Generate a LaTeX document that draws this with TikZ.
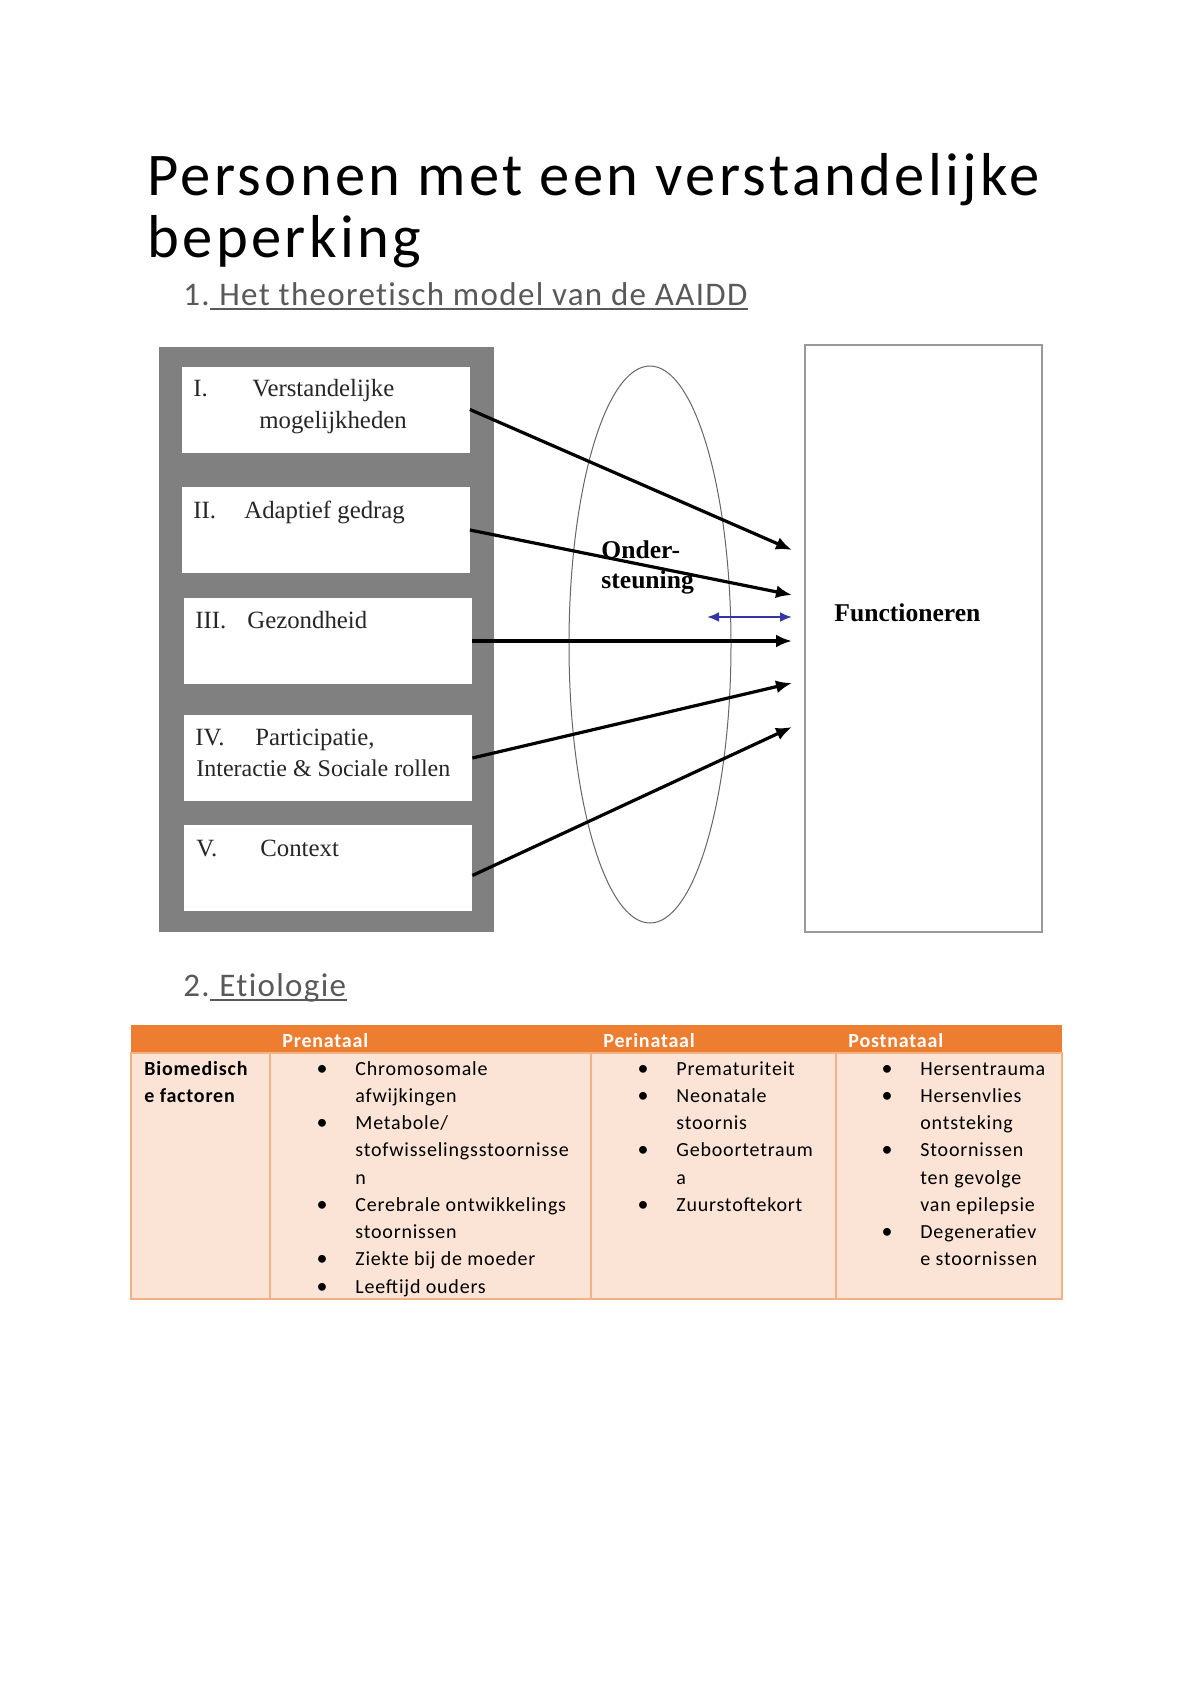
\documentclass[tikz,border=0pt]{standalone}
\usepackage{fontspec}
\setmainfont{Carlito}
\newfontfamily\titlefont[LetterSpace=5.5, Ligatures=NoCommon]{Carlito}
\newfontfamily\headfont[LetterSpace=4, Ligatures=NoCommon]{Carlito}
\newfontfamily\wordfont[LetterSpace=4]{Carlito}
\newfontfamily\timesfont{Liberation Serif}
\usetikzlibrary{arrows.meta, positioning, shapes.geometric}
\definecolor{hdorange}{HTML}{ED7D31}
\definecolor{cellpeach}{HTML}{FBE4D5}
\definecolor{lineorange}{HTML}{F4B183}
\definecolor{boxgray}{HTML}{808080}
\definecolor{arrowblue}{HTML}{3535A5}
\definecolor{headgray}{HTML}{595959}

\tikzset{
  boxtxt/.style={anchor=base west, inner sep=0pt, text=black!85,
                 font=\timesfont\fontsize{12.4}{14}\selectfont},
  boldtxt/.style={anchor=base west, inner sep=0pt, text=black,
                  font=\timesfont\bfseries\fontsize{12.8}{14}\selectfont},
  itembox/.style={fill=white, minimum width=144pt, minimum height=43pt, inner sep=0pt},
  flow/.style={-{Latex[length=8pt,width=6.5pt]}, line width=1.6pt},
  headtxt/.style={anchor=base west, inner sep=0pt, text=headgray,
                  font=\headfont\fontsize{16.5}{20}\selectfont},
  celltxt/.style={anchor=base west, inner sep=0pt,
                  font=\wordfont\fontsize{10}{12}\selectfont},
  bul/.style={anchor=base, inner sep=0pt, font=\fontsize{11}{12}\selectfont},
  colhead/.style={anchor=base west, inner sep=0pt, text=white,
                  font=\wordfont\bfseries\fontsize{10}{12}\selectfont},
}

\begin{document}
\begin{tikzpicture}[x=0.5pt, y=-0.5pt]
  \path[fill=white, use as bounding box] (0,0) rectangle (1200,1698);

  % title and heading
  \node[anchor=base west, inner sep=0pt, font=\titlefont\fontsize{30.3}{35}\selectfont]
    (title1) at (147,195) {Personen met een verstandelijke};
  \node[anchor=base west, inner sep=0pt, font=\titlefont\fontsize{30.3}{35}\selectfont]
    (title2) at (147,257) {beperking};
  \node[headtxt] (h1num) at (183,305) {1.};
  \node[headtxt] (h1txt) at (h1num.base east) {~Het theoretisch model van de AAIDD};
  \draw[headgray, line width=1pt] ([yshift=-1.8pt]h1txt.base west) -- ([yshift=-1.8pt]h1txt.base east);

  % dimensions
  \fill[boxgray] (159,347) rectangle (494,932);
  \node[itembox] (boxI) at (325.5,409.5) {};
  \node[itembox] (boxII) at (325.5,530) {};
  \node[itembox] (boxIII) at (328,641) {};
  \node[itembox] (boxIV) at (328,758) {};
  \node[itembox] (boxV) at (328,867.5) {};

  \node[boxtxt] (numI) at (193,396) {I.};
  \node[boxtxt] (txtI) at (252,396) {Verstandelijke};
  \node[boxtxt] (txtIb) at (259,428) {mogelijkheden};
  \node[boxtxt] (numII) at (193,518) {II.};
  \node[boxtxt] (txtII) at (244,518) {Adaptief gedrag};
  \node[boxtxt] (numIII) at (195,628) {III.};
  \node[boxtxt] (txtIII) at (247,628) {Gezondheid};
  \node[boxtxt] (numIV) at (195,745) {IV.};
  \node[boxtxt] (txtIV) at (255,745) {Participatie,};
  \node[boxtxt, font=\timesfont\fontsize{12}{14}\selectfont] (txtIVb) at (196,776) {Interactie \& Sociale rollen};
  \node[boxtxt] (numV) at (196,856) {V.};
  \node[boxtxt] (txtV) at (260,856) {Context};

  % support and functioning
  \node[ellipse, draw=black!60, line width=0.5pt, minimum width=81pt,
        minimum height=278.5pt, inner sep=0pt] (ond) at (650,644.5) {};
  \node[boldtxt] (ondtxt) at (601,558) {Onder-};
  \node[boldtxt] (ondtxtb) at (601,588) {steuning};
  \node[draw=black!40, line width=0.6pt, minimum width=118.5pt,
        minimum height=293.5pt, inner sep=0pt] (func) at (923.5,638.5) {};
  \node[boldtxt] (functxt) at (834,621) {Functioneren};

  \coordinate (inI) at (792,550);
  \coordinate (inII) at (792,595);
  \coordinate (inIII) at (792,641);
  \coordinate (inIV) at (792,683);
  \coordinate (inV) at (792,727);
  \coordinate (ondL) at (707,617);
  \coordinate (ondR) at (792,617);

  \draw[flow] (boxI.east) -- (inI);
  \draw[flow] (boxII.east) -- (inII);
  \draw[flow] (boxIII.east) -- (inIII);
  \draw[flow] (boxIV.east) -- (inIV);
  \draw[flow] ([yshift=-4pt]boxV.east) -- (inV);
  \draw[arrowblue, line width=1.3pt, {Latex[length=6pt,width=5pt]}-{Latex[length=6pt,width=5pt]}]
    (ondL) -- (ondR);

  % etiologie
  \node[headtxt] (h2num) at (183,996) {2.};
  \node[headtxt] (h2txt) at (h2num.base east) {~Etiologie};
  \draw[headgray, line width=1pt] ([yshift=-1.8pt]h2txt.base west) -- ([yshift=-1.8pt]h2txt.base east);

  \fill[hdorange] (131,1025) rectangle (1062,1053);
  \filldraw[fill=cellpeach, draw=lineorange, line width=0.8pt] (131,1053) rectangle (1062,1299);
  \foreach \x in {270,591,836}
    \draw[lineorange, line width=0.8pt] (\x,1053) -- (\x,1299);

  \node[colhead] (colpre) at (282,1047) {Prenataal};
  \node[colhead] (colperi) at (603,1047) {Perinataal};
  \node[colhead] (colpost) at (848,1047) {Postnataal};

  \node[celltxt, font=\wordfont\bfseries\fontsize{10}{12}\selectfont] (bio) at (144,1075) {Biomedisch};
  \node[celltxt, font=\wordfont\bfseries\fontsize{10}{12}\selectfont] (biob) at (144,1102.25) {e factoren};

  \foreach \t [count=\i] in {Chromosomale, afwijkingen, Metabole/, stofwisselingsstoornisse, n,
      Cerebrale ontwikkelings, stoornissen, Ziekte bij de moeder, Leeftijd ouders}
    \node[celltxt] (pre\i) at (355,{1075+27.25*(\i-1)}) {\t};
  \foreach \i in {1,3,6,8,9}
    \node[bul] (preb\i) at (322,{1075+27.25*(\i-1)}) {\textbullet};

  \foreach \t [count=\i] in {Prematuriteit, Neonatale, stoornis, Geboortetraum, a, Zuurstoftekort}
    \node[celltxt] (peri\i) at (676,{1075+27.25*(\i-1)}) {\t};
  \foreach \i in {1,2,4,6}
    \node[bul] (perib\i) at (643,{1075+27.25*(\i-1)}) {\textbullet};

  \foreach \t [count=\i] in {Hersentrauma, Hersenvlies, ontsteking, Stoornissen, ten gevolge,
      van epilepsie, Degeneratiev, e stoornissen}
    \node[celltxt] (post\i) at (920,{1075+27.25*(\i-1)}) {\t};
  \foreach \i in {1,2,4,7}
    \node[bul] (postb\i) at (887,{1075+27.25*(\i-1)}) {\textbullet};
\end{tikzpicture}
\end{document}
